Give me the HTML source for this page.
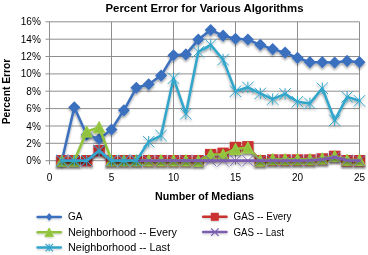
<!DOCTYPE html><html><head><meta charset="utf-8"><title>Percent Error for Various Algorithms</title><style>html,body{margin:0;padding:0;background:#fff}body{width:368px;height:255px;overflow:hidden}</style></head><body><svg width="368" height="255" viewBox="0 0 368 255" style="display:block">
<defs><filter id="sh" x="-5%" y="-20%" width="110%" height="150%"><feGaussianBlur in="SourceAlpha" stdDeviation="1.3"/><feOffset dx="0" dy="2"/><feComponentTransfer><feFuncA type="linear" slope="0.35"/></feComponentTransfer><feMerge><feMergeNode/><feMergeNode in="SourceGraphic"/></feMerge></filter><filter id="sh2" x="-10%" y="-50%" width="120%" height="250%"><feGaussianBlur in="SourceAlpha" stdDeviation="1"/><feOffset dx="0" dy="1.2"/><feComponentTransfer><feFuncA type="linear" slope="0.2"/></feComponentTransfer><feMerge><feMergeNode/><feMergeNode in="SourceGraphic"/></feMerge></filter></defs>
<rect width="368" height="255" fill="#fff"/>
<path d="M45.5 160.7H359.5M45.5 143.3H359.5M45.5 126.0H359.5M45.5 108.6H359.5M45.5 91.2H359.5M45.5 73.9H359.5M45.5 56.5H359.5M45.5 39.2H359.5M45.5 21.8H359.5M49.5 21.8V164.7M111.5 21.8V164.7M173.5 21.8V164.7M235.5 21.8V164.7M297.5 21.8V164.7M359.5 21.8V164.7" stroke="#8E8E8E" stroke-width="1" fill="none"/>
<g font-family="Liberation Sans, Arial, sans-serif" fill="#000">
<text x="204.5" y="11.9" font-size="10.9" font-weight="bold" text-anchor="middle" textLength="198" lengthAdjust="spacingAndGlyphs">Percent Error for Various Algorithms</text>
<text x="40.8" y="164.2" font-size="10" text-anchor="end">0%</text>
<text x="40.8" y="146.8" font-size="10" text-anchor="end">2%</text>
<text x="40.8" y="129.5" font-size="10" text-anchor="end">4%</text>
<text x="40.8" y="112.1" font-size="10" text-anchor="end">6%</text>
<text x="40.8" y="94.8" font-size="10" text-anchor="end">8%</text>
<text x="40.8" y="77.4" font-size="10" text-anchor="end">10%</text>
<text x="40.8" y="60.0" font-size="10" text-anchor="end">12%</text>
<text x="40.8" y="42.7" font-size="10" text-anchor="end">14%</text>
<text x="40.8" y="25.3" font-size="10" text-anchor="end">16%</text>
<text x="49.5" y="180.7" font-size="10" text-anchor="middle">0</text>
<text x="111.5" y="180.7" font-size="10" text-anchor="middle">5</text>
<text x="173.5" y="180.7" font-size="10" text-anchor="middle">10</text>
<text x="235.5" y="180.7" font-size="10" text-anchor="middle">15</text>
<text x="297.5" y="180.7" font-size="10" text-anchor="middle">20</text>
<text x="359.5" y="180.7" font-size="10" text-anchor="middle">25</text>
<text x="204.5" y="199.6" font-size="10" font-weight="bold" text-anchor="middle" textLength="99" lengthAdjust="spacingAndGlyphs">Number of Medians</text>
<text transform="translate(10.2 91.5) rotate(-90)" font-size="10" font-weight="bold" text-anchor="middle" textLength="65.5" lengthAdjust="spacingAndGlyphs">Percent Error</text>
<text x="68" y="220.2" font-size="10">GA</text>
<text x="68" y="235.8" font-size="10" textLength="109" lengthAdjust="spacingAndGlyphs">Neighborhood -- Every</text>
<text x="68" y="251.3" font-size="10" textLength="102" lengthAdjust="spacingAndGlyphs">Neighborhood -- Last</text>
<text x="233.5" y="220.2" font-size="10" textLength="58" lengthAdjust="spacingAndGlyphs">GAS -- Every</text>
<text x="233.5" y="235.8" font-size="10" textLength="50.5" lengthAdjust="spacingAndGlyphs">GAS -- Last</text>
</g>
<g filter="url(#sh)"><polyline fill="none" stroke="#3B6FBE" stroke-width="2.50" stroke-linejoin="round" stroke-linecap="round" points="61.9,160.7 74.3,107.3 86.7,134.7 99.1,139.0 111.5,129.4 123.9,110.3 136.3,87.8 148.7,84.3 161.1,75.6 173.5,55.2 185.9,54.4 198.3,39.6 210.7,30.0 223.1,35.7 235.5,38.7 247.9,39.6 260.3,44.8 272.7,49.1 285.1,52.6 297.5,57.8 309.9,62.2 322.3,62.2 334.7,62.6 347.1,60.9 359.5,62.2"/><path d="M61.9 154.7L67.9 160.7L61.9 166.7L55.9 160.7Z" fill="#3B6FBE"/><path d="M74.3 101.3L80.3 107.3L74.3 113.4L68.3 107.3Z" fill="#3B6FBE"/><path d="M86.7 128.6L92.7 134.7L86.7 140.7L80.7 134.7Z" fill="#3B6FBE"/><path d="M99.1 133.0L105.1 139.0L99.1 145.0L93.1 139.0Z" fill="#3B6FBE"/><path d="M111.5 123.4L117.5 129.4L111.5 135.5L105.5 129.4Z" fill="#3B6FBE"/><path d="M123.9 104.3L129.9 110.3L123.9 116.4L117.9 110.3Z" fill="#3B6FBE"/><path d="M136.3 81.7L142.3 87.8L136.3 93.8L130.3 87.8Z" fill="#3B6FBE"/><path d="M148.7 78.3L154.7 84.3L148.7 90.3L142.7 84.3Z" fill="#3B6FBE"/><path d="M161.1 69.6L167.1 75.6L161.1 81.7L155.1 75.6Z" fill="#3B6FBE"/><path d="M173.5 49.2L179.5 55.2L173.5 61.3L167.5 55.2Z" fill="#3B6FBE"/><path d="M185.9 48.3L191.9 54.4L185.9 60.4L179.9 54.4Z" fill="#3B6FBE"/><path d="M198.3 33.6L204.3 39.6L198.3 45.6L192.3 39.6Z" fill="#3B6FBE"/><path d="M210.7 24.0L216.7 30.0L210.7 36.1L204.7 30.0Z" fill="#3B6FBE"/><path d="M223.1 29.6L229.1 35.7L223.1 41.7L217.1 35.7Z" fill="#3B6FBE"/><path d="M235.5 32.7L241.5 38.7L235.5 44.8L229.5 38.7Z" fill="#3B6FBE"/><path d="M247.9 33.6L253.9 39.6L247.9 45.6L241.9 39.6Z" fill="#3B6FBE"/><path d="M260.3 38.8L266.3 44.8L260.3 50.8L254.3 44.8Z" fill="#3B6FBE"/><path d="M272.7 43.1L278.7 49.1L272.7 55.2L266.7 49.1Z" fill="#3B6FBE"/><path d="M285.1 46.6L291.1 52.6L285.1 58.7L279.1 52.6Z" fill="#3B6FBE"/><path d="M297.5 51.8L303.5 57.8L297.5 63.9L291.5 57.8Z" fill="#3B6FBE"/><path d="M309.9 56.1L315.9 62.2L309.9 68.2L303.9 62.2Z" fill="#3B6FBE"/><path d="M322.3 56.1L328.3 62.2L322.3 68.2L316.3 62.2Z" fill="#3B6FBE"/><path d="M334.7 56.6L340.7 62.6L334.7 68.6L328.7 62.6Z" fill="#3B6FBE"/><path d="M347.1 54.8L353.1 60.9L347.1 66.9L341.1 60.9Z" fill="#3B6FBE"/><path d="M359.5 56.1L365.5 62.2L359.5 68.2L353.5 62.2Z" fill="#3B6FBE"/></g>
<g filter="url(#sh)"><polyline fill="none" stroke="#C9302F" stroke-width="2.50" stroke-linejoin="round" stroke-linecap="round" points="61.9,160.7 74.3,160.7 86.7,160.7 99.1,150.7 111.5,160.7 123.9,160.7 136.3,160.7 148.7,160.7 161.1,160.7 173.5,160.7 185.9,160.7 198.3,160.7 210.7,154.6 223.1,153.3 235.5,147.5 247.9,146.8 260.3,160.7 272.7,160.0 285.1,160.0 297.5,160.0 309.9,160.0 322.3,159.0 334.7,156.4 347.1,160.7 359.5,160.7"/><rect x="56.2" y="155.0" width="11.4" height="11.4" fill="#C9302F"/><rect x="68.6" y="155.0" width="11.4" height="11.4" fill="#C9302F"/><rect x="81.0" y="155.0" width="11.4" height="11.4" fill="#C9302F"/><rect x="93.4" y="145.0" width="11.4" height="11.4" fill="#C9302F"/><rect x="105.8" y="155.0" width="11.4" height="11.4" fill="#C9302F"/><rect x="118.2" y="155.0" width="11.4" height="11.4" fill="#C9302F"/><rect x="130.6" y="155.0" width="11.4" height="11.4" fill="#C9302F"/><rect x="143.0" y="155.0" width="11.4" height="11.4" fill="#C9302F"/><rect x="155.4" y="155.0" width="11.4" height="11.4" fill="#C9302F"/><rect x="167.8" y="155.0" width="11.4" height="11.4" fill="#C9302F"/><rect x="180.2" y="155.0" width="11.4" height="11.4" fill="#C9302F"/><rect x="192.6" y="155.0" width="11.4" height="11.4" fill="#C9302F"/><rect x="205.0" y="148.9" width="11.4" height="11.4" fill="#C9302F"/><rect x="217.4" y="147.6" width="11.4" height="11.4" fill="#C9302F"/><rect x="229.8" y="141.8" width="11.4" height="11.4" fill="#C9302F"/><rect x="242.2" y="141.1" width="11.4" height="11.4" fill="#C9302F"/><rect x="254.6" y="155.0" width="11.4" height="11.4" fill="#C9302F"/><rect x="267.0" y="154.3" width="11.4" height="11.4" fill="#C9302F"/><rect x="279.4" y="154.3" width="11.4" height="11.4" fill="#C9302F"/><rect x="291.8" y="154.3" width="11.4" height="11.4" fill="#C9302F"/><rect x="304.2" y="154.3" width="11.4" height="11.4" fill="#C9302F"/><rect x="316.6" y="153.3" width="11.4" height="11.4" fill="#C9302F"/><rect x="329.0" y="150.7" width="11.4" height="11.4" fill="#C9302F"/><rect x="341.4" y="155.0" width="11.4" height="11.4" fill="#C9302F"/><rect x="353.8" y="155.0" width="11.4" height="11.4" fill="#C9302F"/></g>
<g filter="url(#sh)"><polyline fill="none" stroke="#90C23E" stroke-width="2.50" stroke-linejoin="round" stroke-linecap="round" points="61.9,160.7 74.3,160.7 86.7,131.6 99.1,127.2 111.5,160.3 123.9,160.3 136.3,160.2 148.7,160.2 161.1,160.2 173.5,160.2 185.9,160.2 198.3,160.7 210.7,154.6 223.1,154.6 235.5,149.0 247.9,147.5 260.3,160.4 272.7,159.2 285.1,159.2 297.5,159.2 309.9,159.2 322.3,158.5 334.7,156.1 347.1,159.8 359.5,160.0"/><path d="M61.9 155.3L67.3 166.1L56.5 166.1Z" fill="#90C23E" stroke="#9ACB45" stroke-width="1.2" stroke-linejoin="round"/><path d="M74.3 155.3L79.7 166.1L68.9 166.1Z" fill="#90C23E" stroke="#9ACB45" stroke-width="1.2" stroke-linejoin="round"/><path d="M86.7 126.2L92.1 137.0L81.3 137.0Z" fill="#90C23E" stroke="#9ACB45" stroke-width="1.2" stroke-linejoin="round"/><path d="M99.1 121.8L104.5 132.6L93.7 132.6Z" fill="#90C23E" stroke="#9ACB45" stroke-width="1.2" stroke-linejoin="round"/><path d="M111.5 154.9L116.9 165.7L106.1 165.7Z" fill="#90C23E" stroke="#9ACB45" stroke-width="1.2" stroke-linejoin="round"/><path d="M123.9 154.9L129.3 165.7L118.5 165.7Z" fill="#90C23E" stroke="#9ACB45" stroke-width="1.2" stroke-linejoin="round"/><path d="M136.3 154.8L141.7 165.6L130.9 165.6Z" fill="#90C23E" stroke="#9ACB45" stroke-width="1.2" stroke-linejoin="round"/><path d="M148.7 154.8L154.1 165.6L143.3 165.6Z" fill="#90C23E" stroke="#9ACB45" stroke-width="1.2" stroke-linejoin="round"/><path d="M161.1 154.8L166.5 165.6L155.7 165.6Z" fill="#90C23E" stroke="#9ACB45" stroke-width="1.2" stroke-linejoin="round"/><path d="M173.5 154.8L178.9 165.6L168.1 165.6Z" fill="#90C23E" stroke="#9ACB45" stroke-width="1.2" stroke-linejoin="round"/><path d="M185.9 154.8L191.3 165.6L180.5 165.6Z" fill="#90C23E" stroke="#9ACB45" stroke-width="1.2" stroke-linejoin="round"/><path d="M198.3 155.3L203.7 166.1L192.9 166.1Z" fill="#90C23E" stroke="#9ACB45" stroke-width="1.2" stroke-linejoin="round"/><path d="M210.7 149.2L216.1 160.0L205.3 160.0Z" fill="#90C23E" stroke="#9ACB45" stroke-width="1.2" stroke-linejoin="round"/><path d="M223.1 149.2L228.5 160.0L217.7 160.0Z" fill="#90C23E" stroke="#9ACB45" stroke-width="1.2" stroke-linejoin="round"/><path d="M235.5 143.6L240.9 154.4L230.1 154.4Z" fill="#90C23E" stroke="#9ACB45" stroke-width="1.2" stroke-linejoin="round"/><path d="M247.9 142.1L253.3 152.9L242.5 152.9Z" fill="#90C23E" stroke="#9ACB45" stroke-width="1.2" stroke-linejoin="round"/><path d="M260.3 155.0L265.7 165.8L254.9 165.8Z" fill="#90C23E" stroke="#9ACB45" stroke-width="1.2" stroke-linejoin="round"/><path d="M272.7 153.8L278.1 164.6L267.3 164.6Z" fill="#90C23E" stroke="#9ACB45" stroke-width="1.2" stroke-linejoin="round"/><path d="M285.1 153.8L290.5 164.6L279.7 164.6Z" fill="#90C23E" stroke="#9ACB45" stroke-width="1.2" stroke-linejoin="round"/><path d="M297.5 153.8L302.9 164.6L292.1 164.6Z" fill="#90C23E" stroke="#9ACB45" stroke-width="1.2" stroke-linejoin="round"/><path d="M309.9 153.8L315.3 164.6L304.5 164.6Z" fill="#90C23E" stroke="#9ACB45" stroke-width="1.2" stroke-linejoin="round"/><path d="M322.3 153.1L327.7 163.9L316.9 163.9Z" fill="#90C23E" stroke="#9ACB45" stroke-width="1.2" stroke-linejoin="round"/><path d="M334.7 150.7L340.1 161.5L329.3 161.5Z" fill="#90C23E" stroke="#9ACB45" stroke-width="1.2" stroke-linejoin="round"/><path d="M347.1 154.4L352.5 165.2L341.7 165.2Z" fill="#90C23E" stroke="#9ACB45" stroke-width="1.2" stroke-linejoin="round"/><path d="M359.5 154.6L364.9 165.4L354.1 165.4Z" fill="#90C23E" stroke="#9ACB45" stroke-width="1.2" stroke-linejoin="round"/></g>
<g filter="url(#sh)"><polyline fill="none" stroke="#7B5DB0" stroke-width="2.80" stroke-linejoin="round" stroke-linecap="round" points="61.9,160.7 74.3,160.7 86.7,160.7 99.1,150.7 111.5,160.7 123.9,160.7 136.3,160.7 148.7,160.7 161.1,160.7 173.5,160.7 185.9,160.7 198.3,160.7 210.7,160.7 223.1,160.7 235.5,160.7 247.9,160.7 260.3,160.7 272.7,160.7 285.1,160.7 297.5,160.7 309.9,160.3 322.3,159.4 334.7,157.2 347.1,160.3 359.5,160.7"/><path d="M56.2 155.0L67.6 166.4M56.2 166.4L67.6 155.0" fill="none" stroke="#7B5DB0" stroke-width="0.90"/><path d="M68.6 155.0L80.0 166.4M68.6 166.4L80.0 155.0" fill="none" stroke="#7B5DB0" stroke-width="0.90"/><path d="M81.0 155.0L92.4 166.4M81.0 166.4L92.4 155.0" fill="none" stroke="#7B5DB0" stroke-width="0.90"/><path d="M93.4 145.0L104.8 156.4M93.4 156.4L104.8 145.0" fill="none" stroke="#7B5DB0" stroke-width="0.90"/><path d="M105.8 155.0L117.2 166.4M105.8 166.4L117.2 155.0" fill="none" stroke="#7B5DB0" stroke-width="0.90"/><path d="M118.2 155.0L129.6 166.4M118.2 166.4L129.6 155.0" fill="none" stroke="#7B5DB0" stroke-width="0.90"/><path d="M130.6 155.0L142.0 166.4M130.6 166.4L142.0 155.0" fill="none" stroke="#7B5DB0" stroke-width="0.90"/><path d="M143.0 155.0L154.4 166.4M143.0 166.4L154.4 155.0" fill="none" stroke="#7B5DB0" stroke-width="0.90"/><path d="M155.4 155.0L166.8 166.4M155.4 166.4L166.8 155.0" fill="none" stroke="#7B5DB0" stroke-width="0.90"/><path d="M167.8 155.0L179.2 166.4M167.8 166.4L179.2 155.0" fill="none" stroke="#7B5DB0" stroke-width="0.90"/><path d="M180.2 155.0L191.6 166.4M180.2 166.4L191.6 155.0" fill="none" stroke="#7B5DB0" stroke-width="0.90"/><path d="M192.6 155.0L204.0 166.4M192.6 166.4L204.0 155.0" fill="none" stroke="#7B5DB0" stroke-width="0.90"/><path d="M205.0 155.0L216.4 166.4M205.0 166.4L216.4 155.0" fill="none" stroke="#7B5DB0" stroke-width="0.90"/><path d="M217.4 155.0L228.8 166.4M217.4 166.4L228.8 155.0" fill="none" stroke="#7B5DB0" stroke-width="0.90"/><path d="M229.8 155.0L241.2 166.4M229.8 166.4L241.2 155.0" fill="none" stroke="#7B5DB0" stroke-width="0.90"/><path d="M242.2 155.0L253.6 166.4M242.2 166.4L253.6 155.0" fill="none" stroke="#7B5DB0" stroke-width="0.90"/><path d="M254.6 155.0L266.0 166.4M254.6 166.4L266.0 155.0" fill="none" stroke="#7B5DB0" stroke-width="0.90"/><path d="M267.0 155.0L278.4 166.4M267.0 166.4L278.4 155.0" fill="none" stroke="#7B5DB0" stroke-width="0.90"/><path d="M279.4 155.0L290.8 166.4M279.4 166.4L290.8 155.0" fill="none" stroke="#7B5DB0" stroke-width="0.90"/><path d="M291.8 155.0L303.2 166.4M291.8 166.4L303.2 155.0" fill="none" stroke="#7B5DB0" stroke-width="0.90"/><path d="M304.2 154.6L315.6 166.0M304.2 166.0L315.6 154.6" fill="none" stroke="#7B5DB0" stroke-width="0.90"/><path d="M316.6 153.7L328.0 165.1M316.6 165.1L328.0 153.7" fill="none" stroke="#7B5DB0" stroke-width="0.90"/><path d="M329.0 151.5L340.4 162.9M329.0 162.9L340.4 151.5" fill="none" stroke="#7B5DB0" stroke-width="0.90"/><path d="M341.4 154.6L352.8 166.0M341.4 166.0L352.8 154.6" fill="none" stroke="#7B5DB0" stroke-width="0.90"/><path d="M353.8 155.0L365.2 166.4M353.8 166.4L365.2 155.0" fill="none" stroke="#7B5DB0" stroke-width="0.90"/></g>
<g filter="url(#sh)"><polyline fill="none" stroke="#33A5CB" stroke-width="2.50" stroke-linejoin="round" stroke-linecap="round" points="61.9,160.7 74.3,160.7 86.7,160.7 99.1,150.7 111.5,160.7 123.9,160.7 136.3,160.7 148.7,141.6 161.1,135.5 173.5,78.2 185.9,113.8 198.3,51.8 210.7,44.8 223.1,59.6 235.5,91.2 247.9,87.3 260.3,93.4 272.7,99.1 285.1,93.9 297.5,101.7 309.9,103.4 322.3,88.2 334.7,120.3 347.1,96.9 359.5,100.8"/><path d="M56.2 155.0L67.6 166.4M56.2 166.4L67.6 155.0M61.9 155.0L61.9 166.4" fill="none" stroke="#33A5CB" stroke-width="1.00"/><path d="M68.6 155.0L80.0 166.4M68.6 166.4L80.0 155.0M74.3 155.0L74.3 166.4" fill="none" stroke="#33A5CB" stroke-width="1.00"/><path d="M81.0 155.0L92.4 166.4M81.0 166.4L92.4 155.0M86.7 155.0L86.7 166.4" fill="none" stroke="#33A5CB" stroke-width="1.00"/><path d="M93.4 145.0L104.8 156.4M93.4 156.4L104.8 145.0M99.1 145.0L99.1 156.4" fill="none" stroke="#33A5CB" stroke-width="1.00"/><path d="M105.8 155.0L117.2 166.4M105.8 166.4L117.2 155.0M111.5 155.0L111.5 166.4" fill="none" stroke="#33A5CB" stroke-width="1.00"/><path d="M118.2 155.0L129.6 166.4M118.2 166.4L129.6 155.0M123.9 155.0L123.9 166.4" fill="none" stroke="#33A5CB" stroke-width="1.00"/><path d="M130.6 155.0L142.0 166.4M130.6 166.4L142.0 155.0M136.3 155.0L136.3 166.4" fill="none" stroke="#33A5CB" stroke-width="1.00"/><path d="M143.0 135.9L154.4 147.3M143.0 147.3L154.4 135.9M148.7 135.9L148.7 147.3" fill="none" stroke="#33A5CB" stroke-width="1.00"/><path d="M155.4 129.8L166.8 141.2M155.4 141.2L166.8 129.8M161.1 129.8L161.1 141.2" fill="none" stroke="#33A5CB" stroke-width="1.00"/><path d="M167.8 72.5L179.2 83.9M167.8 83.9L179.2 72.5M173.5 72.5L173.5 83.9" fill="none" stroke="#33A5CB" stroke-width="1.00"/><path d="M180.2 108.1L191.6 119.5M180.2 119.5L191.6 108.1M185.9 108.1L185.9 119.5" fill="none" stroke="#33A5CB" stroke-width="1.00"/><path d="M192.6 46.1L204.0 57.5M192.6 57.5L204.0 46.1M198.3 46.1L198.3 57.5" fill="none" stroke="#33A5CB" stroke-width="1.00"/><path d="M205.0 39.1L216.4 50.5M205.0 50.5L216.4 39.1M210.7 39.1L210.7 50.5" fill="none" stroke="#33A5CB" stroke-width="1.00"/><path d="M217.4 53.9L228.8 65.3M217.4 65.3L228.8 53.9M223.1 53.9L223.1 65.3" fill="none" stroke="#33A5CB" stroke-width="1.00"/><path d="M229.8 85.5L241.2 97.0M229.8 97.0L241.2 85.5M235.5 85.5L235.5 97.0" fill="none" stroke="#33A5CB" stroke-width="1.00"/><path d="M242.2 81.6L253.6 93.0M242.2 93.0L253.6 81.6M247.9 81.6L247.9 93.0" fill="none" stroke="#33A5CB" stroke-width="1.00"/><path d="M254.6 87.7L266.0 99.1M254.6 99.1L266.0 87.7M260.3 87.7L260.3 99.1" fill="none" stroke="#33A5CB" stroke-width="1.00"/><path d="M267.0 93.4L278.4 104.8M267.0 104.8L278.4 93.4M272.7 93.4L272.7 104.8" fill="none" stroke="#33A5CB" stroke-width="1.00"/><path d="M279.4 88.2L290.8 99.6M279.4 99.6L290.8 88.2M285.1 88.2L285.1 99.6" fill="none" stroke="#33A5CB" stroke-width="1.00"/><path d="M291.8 96.0L303.2 107.4M291.8 107.4L303.2 96.0M297.5 96.0L297.5 107.4" fill="none" stroke="#33A5CB" stroke-width="1.00"/><path d="M304.2 97.7L315.6 109.1M304.2 109.1L315.6 97.7M309.9 97.7L309.9 109.1" fill="none" stroke="#33A5CB" stroke-width="1.00"/><path d="M316.6 82.5L328.0 93.9M316.6 93.9L328.0 82.5M322.3 82.5L322.3 93.9" fill="none" stroke="#33A5CB" stroke-width="1.00"/><path d="M329.0 114.6L340.4 126.0M329.0 126.0L340.4 114.6M334.7 114.6L334.7 126.0" fill="none" stroke="#33A5CB" stroke-width="1.00"/><path d="M341.4 91.2L352.8 102.6M341.4 102.6L352.8 91.2M347.1 91.2L347.1 102.6" fill="none" stroke="#33A5CB" stroke-width="1.00"/><path d="M353.8 95.1L365.2 106.5M353.8 106.5L365.2 95.1M359.5 95.1L359.5 106.5" fill="none" stroke="#33A5CB" stroke-width="1.00"/></g>
<g filter="url(#sh2)"><path d="M37.6 217.0H60.8" stroke="#3B6FBE" stroke-width="2.50" stroke-linecap="round"/><path d="M49.2 213.0L52.4 217.0L49.2 221.0L46.0 217.0Z" fill="#3B6FBE"/></g>
<g filter="url(#sh2)"><path d="M37.6 232.3H60.8" stroke="#90C23E" stroke-width="2.50" stroke-linecap="round"/><path d="M49.2 228.3L53.2 236.3L45.2 236.3Z" fill="#90C23E" stroke="#9ACB45" stroke-width="1.2" stroke-linejoin="round"/></g>
<g filter="url(#sh2)"><path d="M37.6 247.6H60.8" stroke="#33A5CB" stroke-width="2.50" stroke-linecap="round"/><path d="M45.5 243.8L53.0 251.3M45.5 251.3L53.0 243.8M49.2 243.8L49.2 251.3" fill="none" stroke="#33A5CB" stroke-width="1.20"/></g>
<g filter="url(#sh2)"><path d="M203.2 216.8H226.5" stroke="#C9302F" stroke-width="2.50" stroke-linecap="round"/><rect x="210.8" y="212.8" width="8.0" height="8.0" fill="#C9302F"/></g>
<g filter="url(#sh2)"><path d="M203.2 232.1H226.5" stroke="#7B5DB0" stroke-width="2.50" stroke-linecap="round"/><path d="M211.1 228.3L218.6 235.8M211.1 235.8L218.6 228.3" fill="none" stroke="#7B5DB0" stroke-width="1.20"/></g>
</svg></body></html>
